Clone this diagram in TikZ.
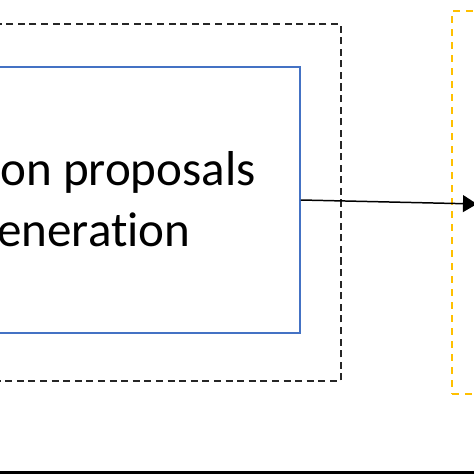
\documentclass[tikz,border=0pt]{standalone}
\usepackage{fontspec}
\setmainfont{Carlito}[Ligatures=NoCommon]
\usetikzlibrary{arrows.meta}
\definecolor{boxblue}{HTML}{4472C4}
\definecolor{boxgold}{HTML}{FFC000}
\tikzset{
    base/.style={draw, rectangle, inner sep=0pt, align=center},
    stagebox/.style={base, draw=boxblue, line width=0.85pt},
    frame/.style={base, draw=black!85, line width=1.1pt, dash pattern=on 4pt off 2.6pt},
    nextframe/.style={base, draw=boxgold, line width=1.1pt, dash pattern=on 4pt off 3.4pt},
    label/.style={inner sep=0pt, anchor=base west, font=\fontsize{27.9}{33}\selectfont},
    arrow/.style={-{Triangle[length=8pt, width=9.6pt]}, line width=0.85pt}
}

\begin{document}
\begin{tikzpicture}
\useasboundingbox (0,0) rectangle (9.48,9.48);
\clip (0,0) rectangle (9.48,9.48);
% dashed frames
\node[frame, minimum width=11.82cm, minimum height=7.14cm] (outer) at (0.91,5.43) {};
\node[nextframe, minimum width=4.96cm, minimum height=7.66cm] (next) at (11.52,5.43) {};
% proposal box
\node[stagebox, minimum width=10cm, minimum height=5.32cm] (proposal) at (1.0,5.48) {};
\node[label] (line1) at (0.0,5.76) {on proposals};
\node[label] (line2) at (-0.06,4.54) {eneration};
% connector
\coordinate (tip) at (9.54,5.40);
\draw[arrow] (proposal.east) -- (tip);
% bottom rule
\draw[line width=1.7pt] (-1,0.03) -- (10.5,0.03);
\end{tikzpicture}
\end{document}
